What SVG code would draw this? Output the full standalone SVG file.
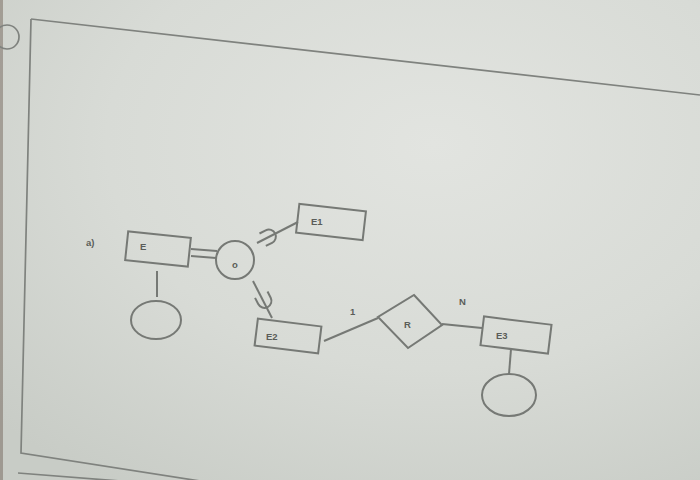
<svg xmlns="http://www.w3.org/2000/svg" width="700" height="480" viewBox="0 0 700 480">
<defs>
<radialGradient id="bg" cx="0.62" cy="0.3" r="0.85">
<stop offset="0" stop-color="#e2e4e0"/>
<stop offset="0.55" stop-color="#d8dbd6"/>
<stop offset="1" stop-color="#c8ccc6"/>
</radialGradient>
<style>
.s{fill:none;stroke:#767975;stroke-width:2}
.f{fill:none;stroke:#7f827e;stroke-width:1.7}
.t{font-family:"Liberation Sans Narrow","Liberation Sans",Arial,sans-serif;font-size:9.5px;font-weight:bold;fill:#5a5d59}
</style>
</defs>
<rect x="0" y="0" width="700" height="480" fill="url(#bg)"/>
<rect x="0" y="0" width="3" height="480" fill="#6b5a50" opacity="0.45"/>
<g id="frame">
<path class="f" d="M31,19 L700,95"/>
<path class="f" d="M31,19 L21,453 L200,481"/>
<path class="f" d="M18,473 L120,481"/>
<circle class="f" cx="7" cy="37" r="12"/>
</g>
<text class="t" x="86" y="246">a)</text>
<g id="connectors">
<line class="s" x1="191" y1="249" x2="217" y2="251"/>
<line class="s" x1="191" y1="256" x2="216" y2="258"/>
<line class="s" x1="257" y1="243" x2="298" y2="222"/>
<line class="s" x1="253" y1="281" x2="272" y2="318"/>
<line class="s" x1="324" y1="341" x2="378" y2="318"/>
<line class="s" x1="442" y1="324" x2="482" y2="328"/>
<line class="s" x1="157" y1="271" x2="157" y2="297"/>
<line class="s" x1="511" y1="349" x2="509" y2="374"/>
<path class="s" transform="translate(268,237) rotate(-27)" d="M-6,-7 L1,-7 A7 7 0 0 1 1,7 L-6,7"/>
<path class="s" transform="translate(264,300) rotate(63)" d="M-6,-7 L1,-7 A7 7 0 0 1 1,7 L-6,7"/>
<text class="t" x="350" y="315">1</text>
<text class="t" x="459" y="305">N</text>
</g>
<g id="E">
<rect class="s" x="126.5" y="234.5" width="63" height="29" transform="rotate(6 158 249)"/>
<text class="t" x="140" y="250">E</text>
</g>
<g id="E_attr">
<ellipse class="s" cx="156" cy="320" rx="25" ry="19"/>
</g>
<g id="o">
<circle class="s" cx="235" cy="260" r="19"/>
<text class="t" x="232" y="268">o</text>
</g>
<g id="E1">
<rect class="s" x="297.5" y="207.5" width="67" height="29" transform="rotate(6.5 331 222)"/>
<text class="t" x="311" y="225">E1</text>
</g>
<g id="E2">
<rect class="s" x="256" y="322.5" width="64" height="27" transform="rotate(7 288 336)"/>
<text class="t" x="266" y="340">E2</text>
</g>
<g id="R">
<polygon class="s" points="414,295 442,325 408,348 378,317"/>
<text class="t" x="404" y="328">R</text>
</g>
<g id="E3">
<rect class="s" x="482" y="320.5" width="68" height="29" transform="rotate(7 516 335)"/>
<text class="t" x="496" y="339">E3</text>
</g>
<g id="E3_attr">
<ellipse class="s" cx="509" cy="395" rx="27" ry="21"/>
</g>
</svg>
